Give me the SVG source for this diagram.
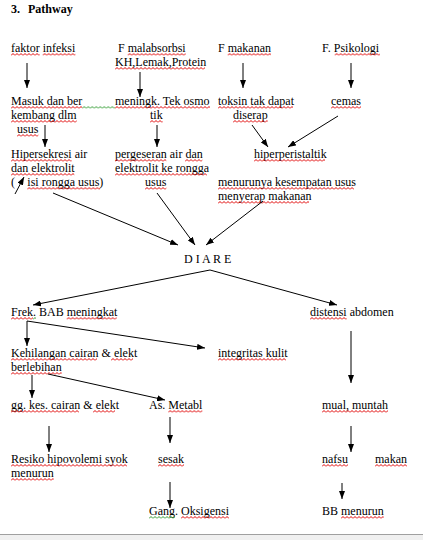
<svg xmlns="http://www.w3.org/2000/svg" width="423" height="540" viewBox="0 0 423 540">
<style>
text{font-family:"Liberation Serif","Times New Roman",serif;font-size:12px;fill:#000}
.b{font-weight:bold}
.c line{stroke:#000;stroke-width:1;marker-end:url(#ah)}
.r{fill:url(#sqr)}
.g{fill:url(#sqg)}
</style>
<defs>
<marker id="ah" markerUnits="userSpaceOnUse" markerWidth="8" markerHeight="6" refX="8" refY="3" orient="auto"><path d="M0,0 L8,3 L0,6 z" fill="#000"/></marker>
<pattern id="sqr" patternUnits="userSpaceOnUse" width="4" height="3"><path d="M0,2.5 L2,0.5 L4,2.5" stroke="#e00000" stroke-width="1" fill="none"/></pattern>
<pattern id="sqg" patternUnits="userSpaceOnUse" width="4" height="3"><path d="M0,2.5 L2,0.5 L4,2.5" stroke="#2e9a2e" stroke-width="1" fill="none"/></pattern>
</defs>
<rect width="423" height="540" fill="#fff"/>
<g id="title"><text class="b" x="11" y="13">3.</text><text class="b" x="28" y="13">Pathway</text></g>

<g id="n-faktor-infeksi"><text x="11" y="52">faktor infeksi</text>
<rect class="r" transform="translate(11,53)" width="28.7" height="3"/><rect class="r" transform="translate(42.7,53)" width="32.7" height="3"/></g>
<g id="n-malabsorbsi"><text x="118" y="52">F malabsorbsi</text><text x="115" y="66">KH,Lemak,Protein</text>
<rect class="r" transform="translate(127.7,53)" width="58" height="3"/><rect class="r" transform="translate(115,67)" width="90" height="3"/></g>
<g id="n-makanan"><text x="218" y="52">F makanan</text><rect class="r" transform="translate(227.7,53)" width="43.3" height="3"/></g>
<g id="n-psikologi"><text x="322" y="52">F. Psikologi</text><rect class="r" transform="translate(334.7,53)" width="45.3" height="3"/></g>

<g id="n-masuk"><text x="11" y="105">Masuk dan ber</text><text x="11" y="119">kembang dlm</text><text x="17" y="133">usus</text>
<rect class="r" transform="translate(11,106)" width="71.3" height="3"/><rect class="g" transform="translate(82.3,106)" width="32.7" height="3"/>
<rect class="r" transform="translate(11,120)" width="65.7" height="3"/><rect class="r" transform="translate(17,134)" width="21.3" height="3"/></g>
<g id="n-osmotik"><text x="115" y="105">meningk. Tek osmo</text><text x="150" y="119">tik</text>
<rect class="r" transform="translate(115,106)" width="95" height="3"/><rect class="r" transform="translate(150,120)" width="12.7" height="3"/></g>
<g id="n-toksin"><text x="218" y="105">toksin tak dapat</text><text x="233" y="119">diserap</text>
<rect class="r" transform="translate(218,106)" width="75" height="3"/><rect class="r" transform="translate(233,120)" width="34.7" height="3"/></g>
<g id="n-cemas"><text x="331" y="105">cemas</text><rect class="r" transform="translate(331,106)" width="30" height="3"/></g>

<g id="n-hipersekresi"><text x="11" y="158">Hipersekresi air</text><text x="11" y="172">dan elektrolit</text><text x="11" y="186">(</text><text x="27.3" y="186">isi rongga usus)</text>
<rect class="r" transform="translate(11,159)" width="60.7" height="3"/><rect class="r" transform="translate(11,173)" width="63.3" height="3"/><rect class="r" transform="translate(27.3,187)" width="72.7" height="3"/></g>
<g id="n-pergeseran"><text x="115" y="158">pergeseran air dan</text><text x="115" y="172">elektrolit ke rongga</text><text x="145" y="186">usus</text>
<rect class="r" transform="translate(115,159)" width="51.3" height="3"/><rect class="r" transform="translate(185,159)" width="17.3" height="3"/><rect class="r" transform="translate(115,173)" width="92" height="3"/><rect class="r" transform="translate(145,187)" width="21.3" height="3"/></g>
<g id="n-hiperperistaltik"><text x="254" y="158">hiperperistaltik</text><rect class="r" transform="translate(254,159)" width="71" height="3"/></g>
<g id="n-menurunya"><text x="218" y="186">menurunya kesempatan usus</text><text x="218" y="200">menyerap makanan</text>
<rect class="r" transform="translate(218,187)" width="136" height="3"/><rect class="r" transform="translate(218,201)" width="91" height="3"/></g>

<g id="n-diare"><text x="184" y="263">D I A R E</text></g>

<g id="n-frek"><text x="11" y="316">Frek. BAB meningkat</text>
<rect class="r" transform="translate(11,317)" width="22" height="3"/><rect class="g" transform="translate(33,317)" width="3" height="3"/><rect class="r" transform="translate(66.7,317)" width="50" height="3"/></g>
<g id="n-distensi"><text x="310" y="316">distensi abdomen</text><rect class="r" transform="translate(310,317)" width="36.7" height="3"/></g>
<g id="n-kehilangan"><text x="11" y="357">Kehilangan cairan &amp; elekt</text><text x="11" y="371">berlebihan</text>
<rect class="r" transform="translate(11,358)" width="86" height="3"/><rect class="r" transform="translate(111,358)" width="22" height="3"/><rect class="r" transform="translate(11,372)" width="50.7" height="3"/></g>
<g id="n-integritas"><text x="218" y="357">integritas kulit</text><rect class="r" transform="translate(218,358)" width="68" height="3"/></g>
<g id="n-ggkes"><text x="11" y="409">gg. kes. cairan &amp; elekt</text>
<rect class="r" transform="translate(11,410)" width="68" height="3"/><rect class="r" transform="translate(93,410)" width="22" height="3"/></g>
<g id="n-asmetabl"><text x="149" y="409">As. Metabl</text><rect class="r" transform="translate(168.3,410)" width="34" height="3"/></g>
<g id="n-mual"><text x="322" y="409">mual, muntah</text><rect class="r" transform="translate(322,410)" width="66" height="3"/></g>
<g id="n-resiko"><text x="11" y="463">Resiko hipovolemi syok</text><text x="11" y="477">menurun</text>
<rect class="r" transform="translate(11,464)" width="116" height="3"/><rect class="r" transform="translate(11,478)" width="42.7" height="3"/></g>
<g id="n-sesak"><text x="158" y="463">sesak</text><rect class="r" transform="translate(158,464)" width="26" height="3"/></g>
<g id="n-nafsu"><text x="322" y="463">nafsu</text><text x="375" y="463">makan</text>
<rect class="r" transform="translate(322,464)" width="26" height="3"/><rect class="r" transform="translate(375,464)" width="32" height="3"/></g>
<g id="n-gang"><text x="149" y="515">Gang. Oksigensi</text>
<rect class="g" transform="translate(149,516)" width="26" height="3"/><rect class="r" transform="translate(181,516)" width="48" height="3"/></g>
<g id="n-bb"><text x="322" y="515">BB menurun</text><rect class="r" transform="translate(341,516)" width="42.7" height="3"/></g>

<g id="connectors" class="c">
<line x1="27" y1="63" x2="27" y2="88"/>
<line x1="140" y1="72" x2="140" y2="97"/>
<line x1="243" y1="63" x2="243" y2="88"/>
<line x1="351" y1="63" x2="351" y2="88"/>
<line x1="45" y1="125" x2="45" y2="147"/>
<line x1="157" y1="125" x2="157" y2="147"/>
<line x1="252" y1="125" x2="268" y2="147"/>
<line x1="338" y1="116" x2="288" y2="147"/>
<line x1="15" y1="194" x2="24" y2="177"/>
<line x1="53" y1="193" x2="178" y2="245"/>
<line x1="157" y1="193" x2="195" y2="245"/>
<line x1="263" y1="201" x2="206" y2="245"/>
<line x1="210" y1="270" x2="33" y2="305"/>
<line x1="210" y1="270" x2="337" y2="305"/>
<line x1="27" y1="321" x2="27" y2="346"/>
<line x1="27" y1="321" x2="205" y2="348"/>
<line x1="351" y1="331" x2="351" y2="383"/>
<line x1="32" y1="375" x2="32" y2="398"/>
<line x1="48" y1="374" x2="165" y2="400"/>
<line x1="49" y1="426" x2="49" y2="452"/>
<line x1="170" y1="417" x2="170" y2="443"/>
<line x1="351" y1="426" x2="351" y2="452"/>
<line x1="170" y1="482" x2="170" y2="508"/>
<line x1="342" y1="483" x2="342" y2="499"/>
</g>
<rect x="0" y="534" width="423" height="1" fill="#a0a0a0"/>
<rect x="0" y="535" width="423" height="5" fill="#f0f0f0"/>
</svg>
